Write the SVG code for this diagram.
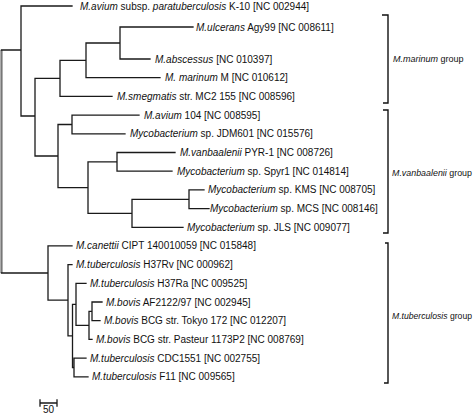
<svg xmlns="http://www.w3.org/2000/svg" width="474" height="413" viewBox="0 0 474 413">
<style>
.e{fill:none;stroke:#1a1a1a;stroke-width:1.3;stroke-linecap:square}
.r{fill:none;stroke:#777;stroke-width:2.2}
.t{font-family:"Liberation Sans",Arial,sans-serif;font-size:10px;fill:#111}
.i{font-style:italic}
.g{font-family:"Liberation Sans",Arial,sans-serif;font-size:9px;fill:#111}
.b{fill:none;stroke:#111;stroke-width:1.4}
</style>
<rect width="474" height="413" fill="#fff"/>
<g id="connectors">
<path class="r" d="M1.5,50V273"/>
<path class="e" d="M1.5,50H21M1.5,273H48
M21,6V116M21,6H72M21,116H35
M35,78.4V156M35,78.4H60M60,60.4V96.4M60,96.4H112M60,60.4H86
M86,43V77.7M86,77.7H160M86,43H120M120,27V59M120,27H193M120,59H150
M35,156H58M58,124.5V187.6M58,124.5H72M72,115.1V133.8M72,115.1H139M72,133.8H125
M58,187.6H88M88,161.9V213.3M88,161.9H117M117,152.5V171.2M117,152.5H175M117,171.2H172
M88,213.3H132M132,199.3V227.3M132,227.3H183M132,199.3H189M189,189.9V208.6M189,189.9H204M189,208.6H209
M48,245.9V300.2M48,245.9H72M48,300.2H68M68,264.6V335.9M68,264.6H72M68,335.9H72.5
M72.5,304.3V367.5M72.5,304.3H76M76,283.3V325.4M76,283.3H86M76,325.4H89
M89,311.4V339.4M89,339.4H92M89,311.4H92M92,302V320.7M92,302H102M92,320.7H100
M72.5,367.5H74M74,358.1V376.8M74,358.1H86M74,376.8H88"/>
</g>
<g id="leaf-avium-k10"><text class="t" x="80" y="9.5"><tspan class="i">M.avium</tspan> subsp. <tspan class="i">paratuberculosis</tspan> K-10 [NC 002944]</text></g>
<g id="leaf-ulcerans"><text class="t" x="196" y="30.5"><tspan class="i">M.ulcerans</tspan> Agy99 [NC 008611]</text></g>
<g id="leaf-abscessus"><text class="t" x="155" y="62.5"><tspan class="i">M.abscessus</tspan> [NC 010397]</text></g>
<g id="leaf-marinum"><text class="t" x="165" y="81.2"><tspan class="i">M. marinum</tspan> M [NC 010612]</text></g>
<g id="leaf-smegmatis"><text class="t" x="117" y="99.9"><tspan class="i">M.smegmatis</tspan> str. MC2 155 [NC 008596]</text></g>
<g id="leaf-avium-104"><text class="t" x="144" y="118.6"><tspan class="i">M.avium</tspan> 104 [NC 008595]</text></g>
<g id="leaf-jdm601"><text class="t" x="130" y="137.3"><tspan class="i">Mycobacterium</tspan> sp. JDM601 [NC 015576]</text></g>
<g id="leaf-vanbaalenii"><text class="t" x="180" y="156"><tspan class="i">M.vanbaalenii</tspan> PYR-1 [NC 008726]</text></g>
<g id="leaf-spyr1"><text class="t" x="177" y="174.7"><tspan class="i">Mycobacterium</tspan> sp. Spyr1 [NC 014814]</text></g>
<g id="leaf-kms"><text class="t" x="208" y="193.4"><tspan class="i">Mycobacterium</tspan> sp. KMS [NC 008705]</text></g>
<g id="leaf-mcs"><text class="t" x="210" y="212.1"><tspan class="i">Mycobacterium</tspan> sp. MCS [NC 008146]</text></g>
<g id="leaf-jls"><text class="t" x="187" y="230.8"><tspan class="i">Mycobacterium</tspan> sp. JLS [NC 009077]</text></g>
<g id="leaf-canettii"><text class="t" x="76" y="249.4"><tspan class="i">M.canettii</tspan> CIPT 140010059 [NC 015848]</text></g>
<g id="leaf-h37rv"><text class="t" x="76" y="268.1"><tspan class="i">M.tuberculosis</tspan> H37Rv [NC 000962]</text></g>
<g id="leaf-h37ra"><text class="t" x="90" y="286.8"><tspan class="i">M.tuberculosis</tspan> H37Ra [NC 009525]</text></g>
<g id="leaf-bovis-af2122"><text class="t" x="106" y="305.5"><tspan class="i">M.bovis</tspan> AF2122/97 [NC 002945]</text></g>
<g id="leaf-bovis-tokyo"><text class="t" x="104" y="324.2"><tspan class="i">M.bovis</tspan> BCG str. Tokyo 172 [NC 012207]</text></g>
<g id="leaf-bovis-pasteur"><text class="t" x="96" y="342.9"><tspan class="i">M.bovis</tspan> BCG str. Pasteur 1173P2 [NC 008769]</text></g>
<g id="leaf-cdc1551"><text class="t" x="90" y="361.6"><tspan class="i">M.tuberculosis</tspan> CDC1551 [NC 002755]</text></g>
<g id="leaf-f11"><text class="t" x="92" y="380.3"><tspan class="i">M.tuberculosis</tspan> F11 [NC 009565]</text></g>
<g id="group-marinum"><path class="b" d="M382,15H388V103H383"/><text class="g" x="393" y="61.5"><tspan class="i">M.marinum</tspan> group</text></g>
<g id="group-vanbaalenii"><path class="b" d="M383,110H388V233H383"/><text class="g" x="392" y="175.5" textLength="80" lengthAdjust="spacingAndGlyphs"><tspan class="i">M.vanbaalenii</tspan> group</text></g>
<g id="group-tuberculosis"><path class="b" d="M385,243H388V383H384"/><text class="g" x="392" y="319" textLength="80" lengthAdjust="spacingAndGlyphs"><tspan class="i">M.tuberculosis</tspan> group</text></g>
<g id="scale-bar"><path class="e" d="M40,403H57M40,400V406M57,400V406"/><text class="t" x="48.5" y="412.5" font-size="9" text-anchor="middle">50</text></g>
</svg>
